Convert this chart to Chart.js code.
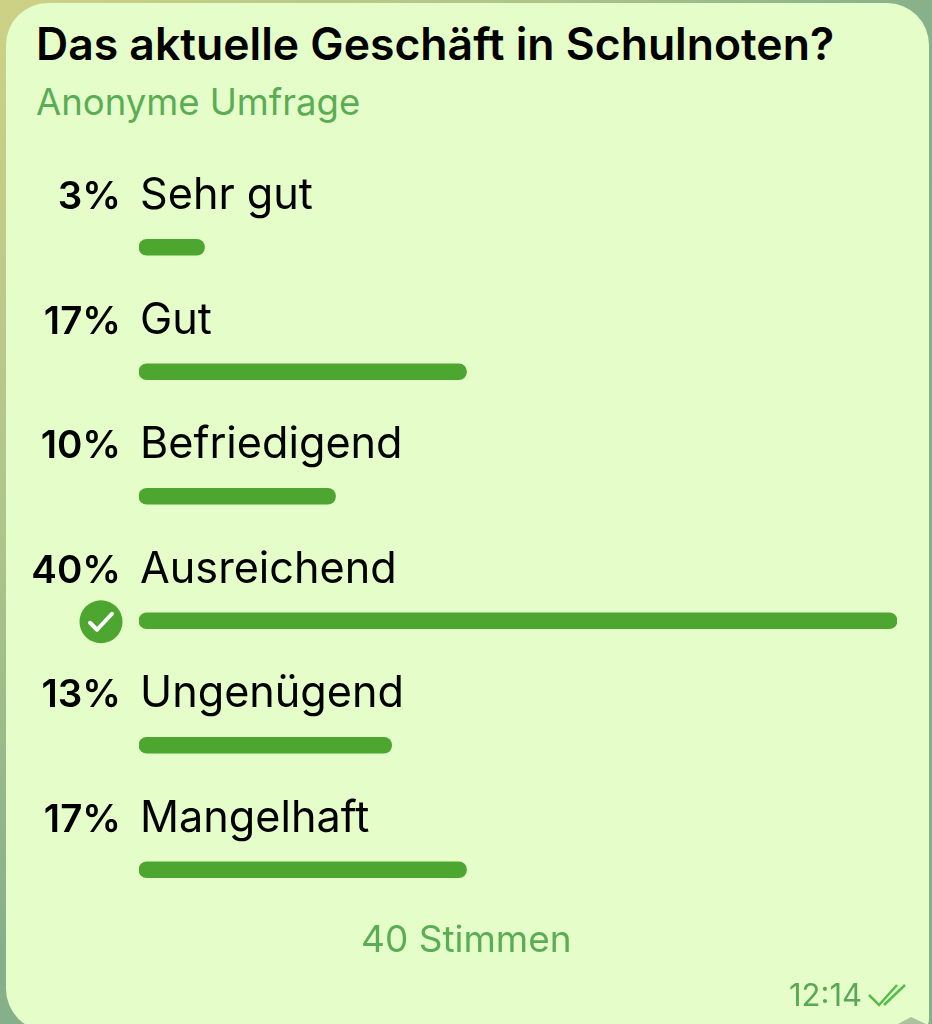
<!DOCTYPE html>
<html lang="de">
<head>
    <meta charset="UTF-8">
    <title>Das aktuelle Geschäft in Schulnoten?</title>
    <script src="https://cdnjs.cloudflare.com/ajax/libs/Chart.js/4.4.1/chart.umd.min.js"></script>
    <style>
        body {
            margin: 0;
            width: 932px;
            height: 1024px;
            overflow: hidden;
            position: relative;
            font-family: 'Inter', sans-serif;
            background: radial-gradient(circle 1000px at 0 0, #cdd186 0%, #aec48a 54%, #85b08a 95%);
        }

        .bubble {
            position: absolute;
            left: 6px;
            top: 3px;
            width: 923px;
            height: 1028px;
            background: #e5fdc9;
            border-radius: 42px 42px 12px 42px;
        }

        #pollChart {
            position: absolute;
            left: 0;
            top: 0;
        }

        .text {
            position: absolute;
            white-space: nowrap;
            line-height: 1;
        }

        .title {
            left: 36px;
            top: 22px;
            font-size: 44.5px;
            font-weight: 600;
            color: #000;
        }

        .subtitle {
            left: 36px;
            top: 84px;
            font-size: 36.5px;
            color: #5aad55;
        }

        .votes {
            left: 361px;
            top: 920px;
            font-size: 37px;
            color: #5aad55;
        }

        .time {
            left: 789px;
            top: 979px;
            font-size: 31px;
            color: #5aa855;
        }

        .ticks {
            position: absolute;
            left: 866px;
            top: 982px;
        }

        .notch {
            position: absolute;
            left: 898px;
            top: 1016px;
        }
    </style>
</head>
<body>
    <div class="bubble"></div>
    <svg class="notch" width="30" height="8"><path d="M0 8 L13 1 L28 8 Z" fill="#aac39c"/></svg>
    <div class="text title">Das aktuelle Geschäft in Schulnoten?</div>
    <div class="text subtitle">Anonyme Umfrage</div>
    <canvas id="pollChart" width="932" height="1024"></canvas>
    <div class="text votes">40 Stimmen</div>
    <div class="text time">12:14</div>
    <svg class="ticks" width="44" height="28" fill="none" stroke="#55bd48" stroke-width="2.5">
        <path d="M3 13 L13 23 L31 3"/>
        <path d="M18 23 L39 3"/>
    </svg>

    <script>
        const answers = ['Sehr gut', 'Gut', 'Befriedigend', 'Ausreichend', 'Ungenügend', 'Mangelhaft'];
        const percents = [3, 17, 10, 40, 13, 17];
        const chosenAnswer = 'Ausreichend';

        // Draws the percentage, the answer text and the "my vote" badge for each row
        const rowLabels = {
            id: 'rowLabels',
            afterDatasetsDraw(chart) {
                const { ctx, scales: { y } } = chart;
                ctx.save();
                ctx.textBaseline = 'alphabetic';
                answers.forEach((answer, i) => {
                    const barY = y.getPixelForValue(i);

                    ctx.fillStyle = '#000';
                    ctx.textAlign = 'right';
                    ctx.font = '600 38.5px Inter, sans-serif';
                    ctx.fillText(percents[i] + '%', 121, barY - 38);

                    ctx.textAlign = 'left';
                    ctx.font = '400 43.2px Inter, sans-serif';
                    ctx.fillText(answer, 140, barY - 38);

                    if (answer === chosenAnswer) {
                        ctx.fillStyle = '#4ca630';
                        ctx.beginPath();
                        ctx.arc(101, barY + 1, 21.5, 0, Math.PI * 2);
                        ctx.fill();
                        ctx.strokeStyle = '#fff';
                        ctx.lineWidth = 4;
                        ctx.lineCap = 'round';
                        ctx.lineJoin = 'round';
                        ctx.beginPath();
                        ctx.moveTo(90, barY + 2);
                        ctx.lineTo(97, barY + 9);
                        ctx.lineTo(112, barY - 7);
                        ctx.stroke();
                    }
                });
                ctx.restore();
            }
        };

        new Chart(document.getElementById('pollChart'), {
            type: 'bar',
            data: {
                labels: answers,
                datasets: [{
                    data: percents,
                    backgroundColor: '#4ca630',
                    barThickness: 16,
                    borderRadius: 8,
                    borderSkipped: false,
                    base: -0.5
                }]
            },
            options: {
                indexAxis: 'y',
                responsive: false,
                animation: false,
                layout: {
                    padding: { left: 139, right: 35, top: 185, bottom: 92 }
                },
                scales: {
                    x: { display: false, min: -0.5, max: 40 },
                    y: { display: false }
                },
                plugins: {
                    legend: { display: false },
                    tooltip: { enabled: false }
                }
            },
            plugins: [rowLabels]
        });
    </script>
</body>
</html>
